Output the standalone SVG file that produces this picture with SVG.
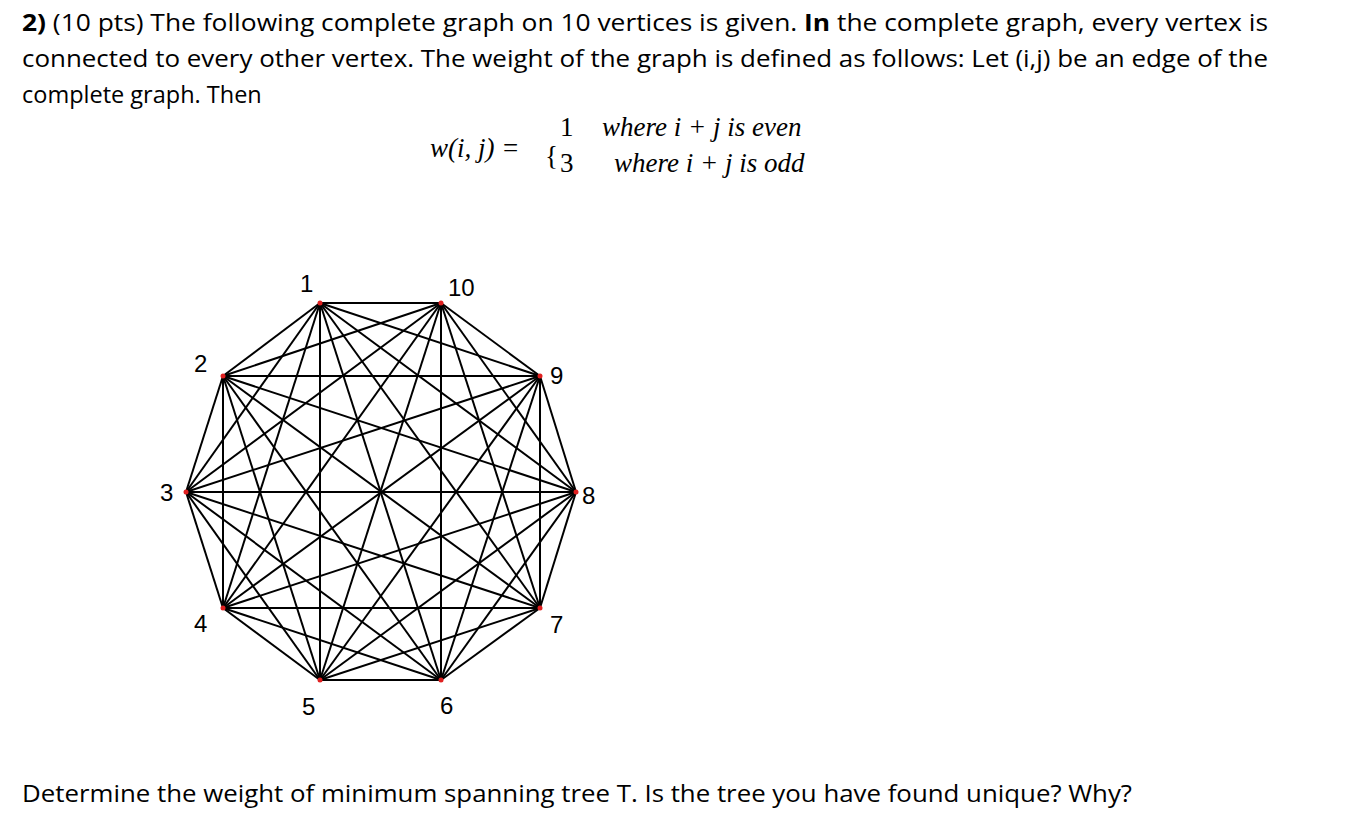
<svg xmlns="http://www.w3.org/2000/svg" width="1366" height="836" viewBox="0 0 1366 836">
<style>
.t{font-family:"Open Sans","Liberation Sans",sans-serif;font-size:23.5px;fill:#000}
.m{font-family:"Liberation Serif","DejaVu Serif",serif;font-size:27px;font-style:italic;fill:#000}
.mu{font-family:"Liberation Serif","DejaVu Serif",serif;font-size:27px;fill:#000}
.l{font-family:"Liberation Sans",Arial,sans-serif;font-size:24px;fill:#000}
#edges line{stroke:#000;stroke-width:2}
.v{fill:#e02020}
</style>
<rect width="1366" height="836" fill="#fff"/>
<text class="t" x="22" y="31" textLength="1246" lengthAdjust="spacingAndGlyphs"><tspan font-weight="bold">2)</tspan> (10 pts) The following complete graph on 10 vertices is given. <tspan font-weight="bold">In</tspan> the complete graph, every vertex is</text>
<text class="t" x="22" y="67" textLength="1246" lengthAdjust="spacingAndGlyphs">connected to every other vertex. The weight of the graph is defined as follows: Let (i,j) be an edge of the</text>
<text class="t" x="22" y="103">complete graph. Then</text>
<text class="m" x="430" y="157">w<tspan class="mu">(</tspan>i, j<tspan class="mu">) =</tspan></text>
<text class="mu" x="545" y="165" font-size="44" transform="scale(1,1)">{</text>
<text class="mu" x="560" y="136">1</text>
<text class="mu" x="560" y="172">3</text>
<text class="m" x="602" y="136">where i <tspan class="mu">+</tspan> j is even</text>
<text class="m" x="614" y="172">where i <tspan class="mu">+</tspan> j is odd</text>
<g id="edges">
<line x1="320" y1="303" x2="223" y2="376"/><line x1="320" y1="303" x2="186" y2="492"/><line x1="320" y1="303" x2="223" y2="608"/><line x1="320" y1="303" x2="320" y2="680"/><line x1="320" y1="303" x2="441" y2="680"/><line x1="320" y1="303" x2="540" y2="608"/><line x1="320" y1="303" x2="576" y2="492"/><line x1="320" y1="303" x2="540" y2="376"/><line x1="320" y1="303" x2="441" y2="303"/>
<line x1="223" y1="376" x2="186" y2="492"/><line x1="223" y1="376" x2="223" y2="608"/><line x1="223" y1="376" x2="320" y2="680"/><line x1="223" y1="376" x2="441" y2="680"/><line x1="223" y1="376" x2="540" y2="608"/><line x1="223" y1="376" x2="576" y2="492"/><line x1="223" y1="376" x2="540" y2="376"/><line x1="223" y1="376" x2="441" y2="303"/>
<line x1="186" y1="492" x2="223" y2="608"/><line x1="186" y1="492" x2="320" y2="680"/><line x1="186" y1="492" x2="441" y2="680"/><line x1="186" y1="492" x2="540" y2="608"/><line x1="186" y1="492" x2="576" y2="492"/><line x1="186" y1="492" x2="540" y2="376"/><line x1="186" y1="492" x2="441" y2="303"/>
<line x1="223" y1="608" x2="320" y2="680"/><line x1="223" y1="608" x2="441" y2="680"/><line x1="223" y1="608" x2="540" y2="608"/><line x1="223" y1="608" x2="576" y2="492"/><line x1="223" y1="608" x2="540" y2="376"/><line x1="223" y1="608" x2="441" y2="303"/>
<line x1="320" y1="680" x2="441" y2="680"/><line x1="320" y1="680" x2="540" y2="608"/><line x1="320" y1="680" x2="576" y2="492"/><line x1="320" y1="680" x2="540" y2="376"/><line x1="320" y1="680" x2="441" y2="303"/>
<line x1="441" y1="680" x2="540" y2="608"/><line x1="441" y1="680" x2="576" y2="492"/><line x1="441" y1="680" x2="540" y2="376"/><line x1="441" y1="680" x2="441" y2="303"/>
<line x1="540" y1="608" x2="576" y2="492"/><line x1="540" y1="608" x2="540" y2="376"/><line x1="540" y1="608" x2="441" y2="303"/>
<line x1="576" y1="492" x2="540" y2="376"/><line x1="576" y1="492" x2="441" y2="303"/>
<line x1="540" y1="376" x2="441" y2="303"/>
</g>
<g id="v1"><circle class="v" cx="320" cy="303" r="2.5"/><text class="l" x="300" y="292">1</text></g>
<g id="v2"><circle class="v" cx="223" cy="376" r="2.5"/><text class="l" x="194" y="372">2</text></g>
<g id="v3"><circle class="v" cx="186" cy="492" r="2.5"/><text class="l" x="160" y="501">3</text></g>
<g id="v4"><circle class="v" cx="223" cy="608" r="2.5"/><text class="l" x="194" y="632">4</text></g>
<g id="v5"><circle class="v" cx="320" cy="680" r="2.5"/><text class="l" x="302" y="715">5</text></g>
<g id="v6"><circle class="v" cx="441" cy="680" r="2.5"/><text class="l" x="440" y="714">6</text></g>
<g id="v7"><circle class="v" cx="540" cy="608" r="2.5"/><text class="l" x="550" y="633">7</text></g>
<g id="v8"><circle class="v" cx="576" cy="492" r="2.5"/><text class="l" x="582" y="504">8</text></g>
<g id="v9"><circle class="v" cx="540" cy="376" r="2.5"/><text class="l" x="550" y="384">9</text></g>
<g id="v10"><circle class="v" cx="441" cy="303" r="2.5"/><text class="l" x="448" y="296">10</text></g>
<text class="t" x="22" y="802" textLength="1110" lengthAdjust="spacingAndGlyphs">Determine the weight of minimum spanning tree T. Is the tree you have found unique? Why?</text>
</svg>
